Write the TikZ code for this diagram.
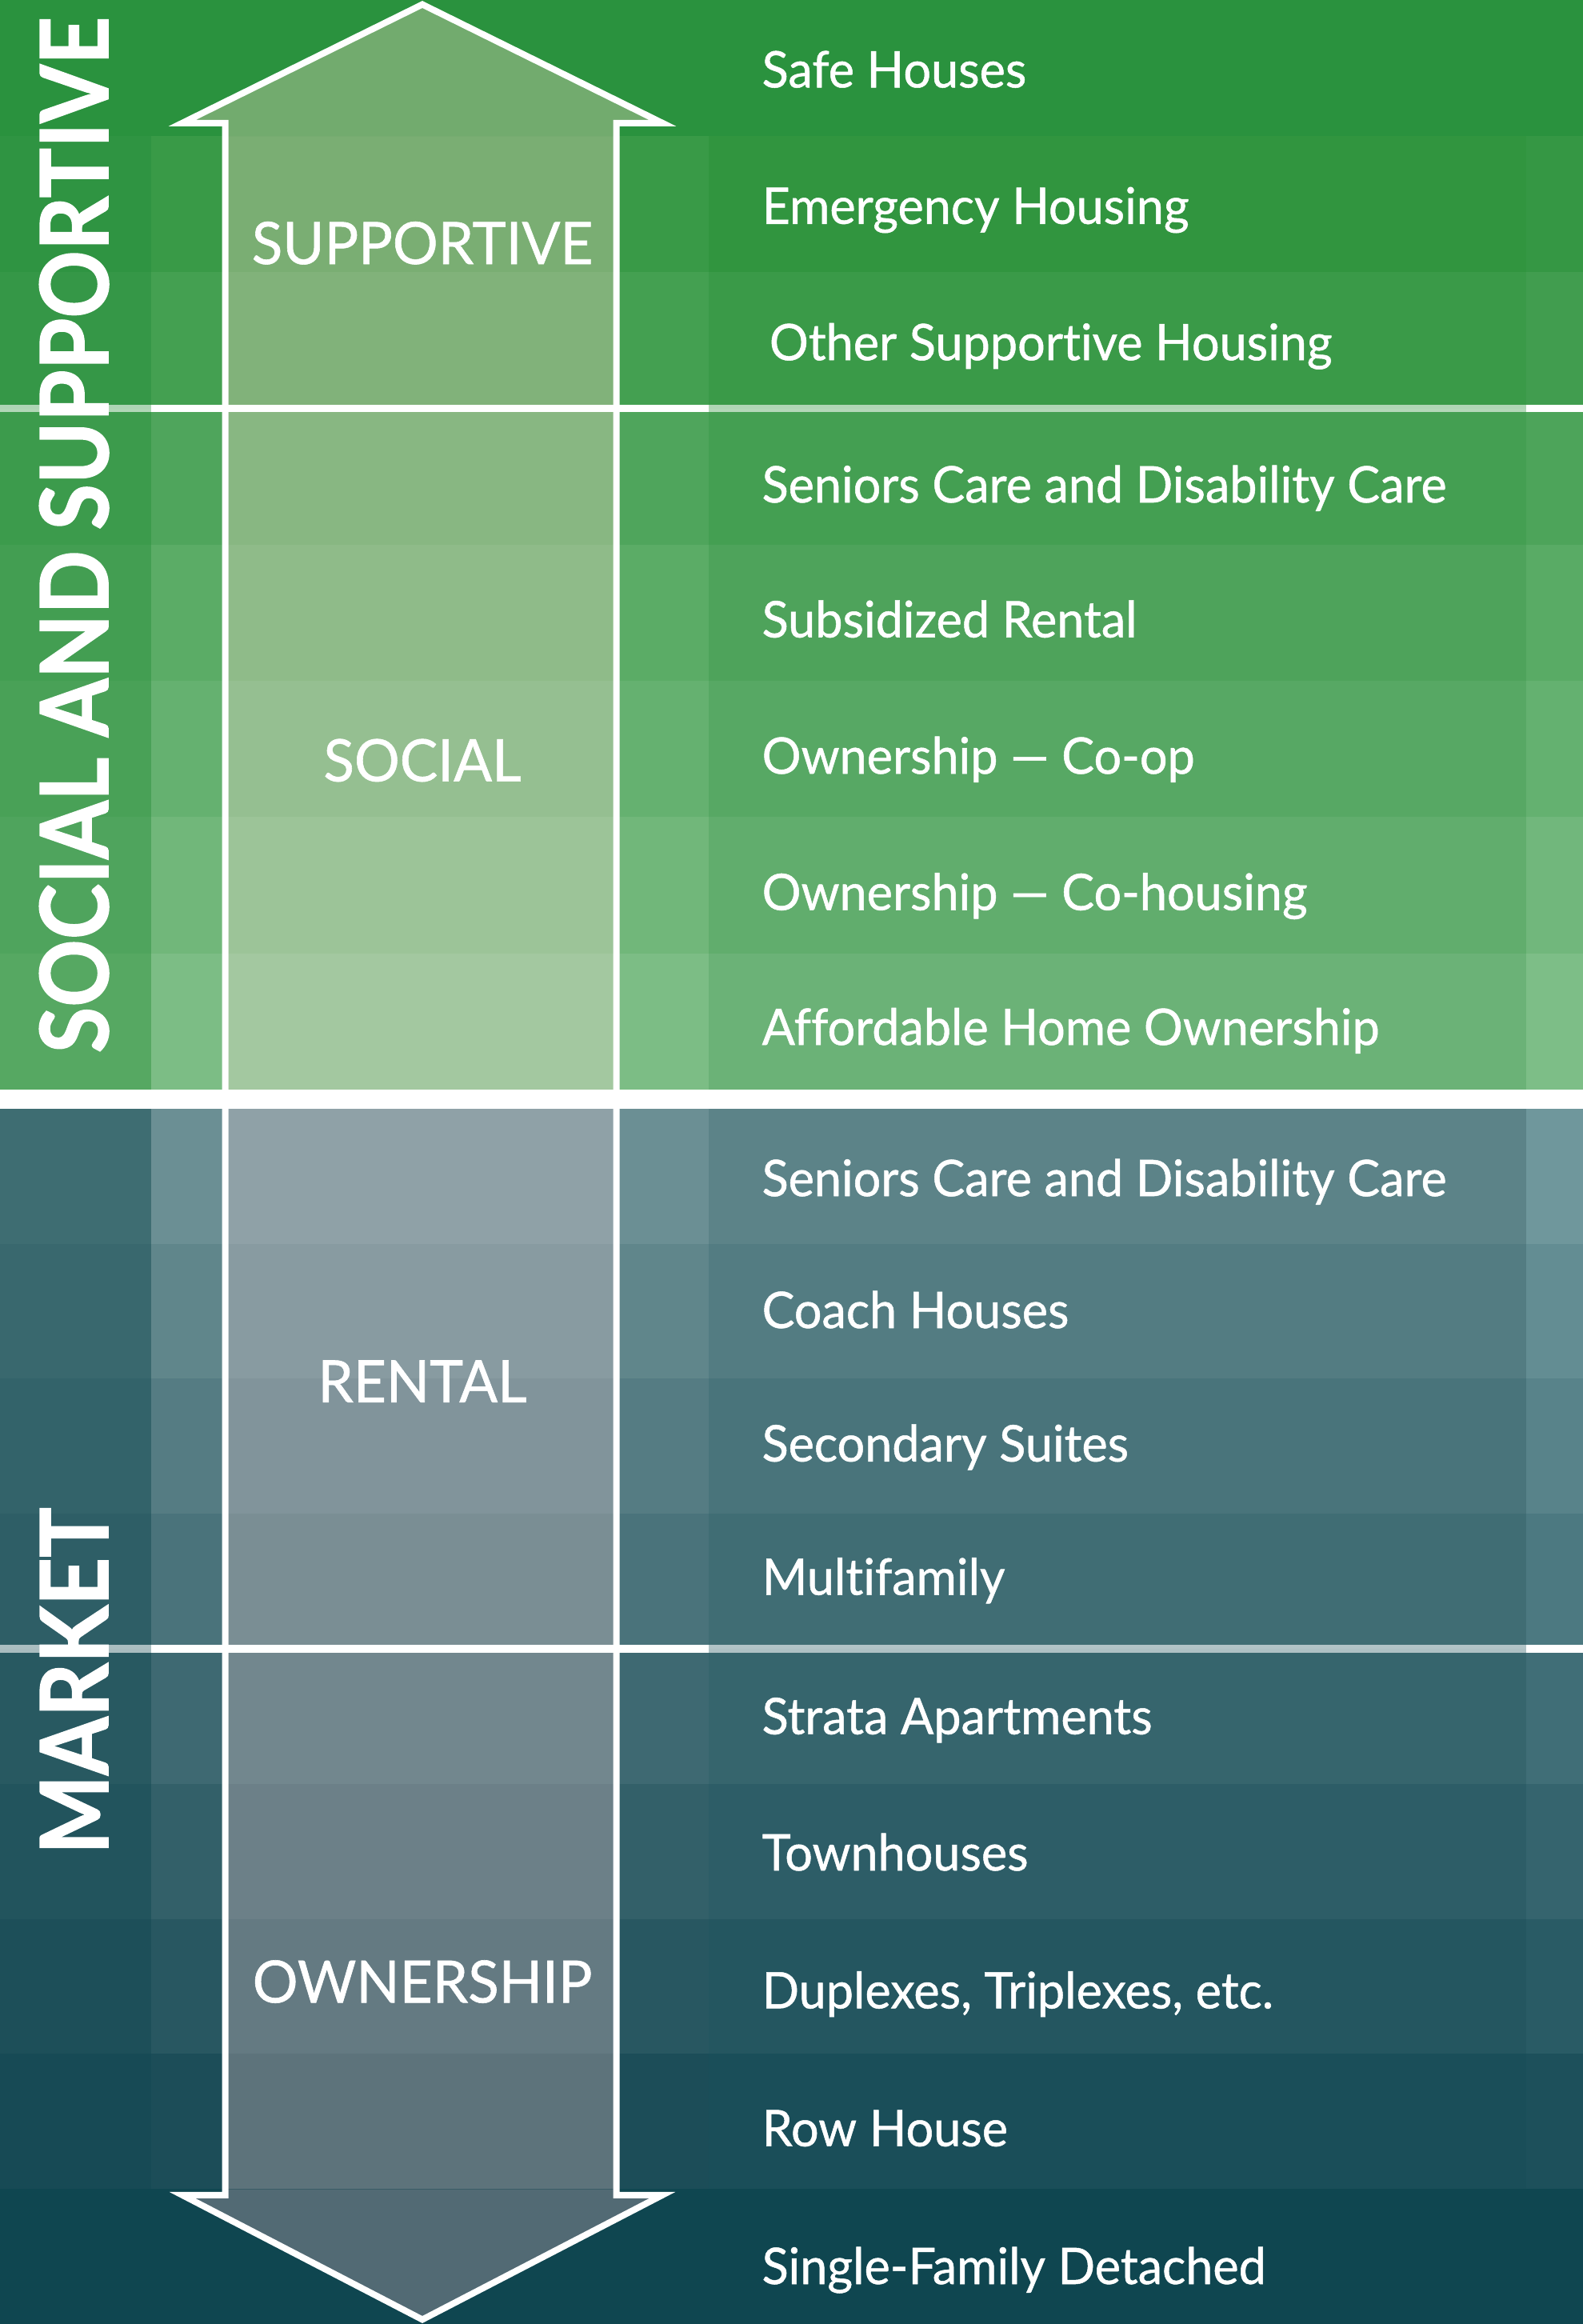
\documentclass[tikz,border=0pt]{standalone}
\usepackage{fontspec}
\setmainfont{Lato}
\newfontfamily\itemfont{Lato}[FakeBold=0.8, FakeStretch=0.97, Ligatures=NoCommon]
\newfontfamily\sidefont{Lato}[BoldFeatures={FakeStretch=0.89, FakeBold=1.2}]

% green part
\definecolor{gtop}{HTML}{2A923E}
\definecolor{ghead}{HTML}{72AB6E}
\definecolor{gAtop}{HTML}{2F9442}\definecolor{gAbot}{HTML}{56A862}
\definecolor{gBtop}{HTML}{399A47}\definecolor{gBbot}{HTML}{7CBD85}
\definecolor{gCtop}{HTML}{7AAE73}\definecolor{gCbot}{HTML}{A3C8A0}
\definecolor{gEtop}{HTML}{31953F}\definecolor{gEbot}{HTML}{6BB277}
\definecolor{gFtop}{HTML}{359744}\definecolor{gFbot}{HTML}{7DBE87}
% market part
\definecolor{mbot}{HTML}{0F4650}
\definecolor{mhead}{HTML}{526A74}
\definecolor{mAtop}{HTML}{3E6D72}\definecolor{mAbot}{HTML}{174A55}
\definecolor{mBtop}{HTML}{6B8F94}\definecolor{mBbot}{HTML}{1C4D58}
\definecolor{mCtop}{HTML}{8FA1A7}\definecolor{mCbot}{HTML}{5D737B}
\definecolor{mEtop}{HTML}{5C8388}\definecolor{mEbot}{HTML}{1A4E59}
\definecolor{mFtop}{HTML}{6F979C}\definecolor{mFbot}{HTML}{1D505B}

\tikzset{
	item/.style={anchor=base west, text=white, inner sep=0pt,
		font=\itemfont\fontsize{34}{40}\selectfont},
	band/.style={text=white, inner sep=0pt,
		font=\itemfont\fontsize{39.5}{46}\selectfont},
	side/.style={text=white, inner sep=0pt, rotate=90,
		font=\sidefont\bfseries\fontsize{63.5}{70}\selectfont},
	divider/.style={white, line width=5pt},
}

\begin{document}
\begin{tikzpicture}[x=1pt,y=-1pt]
\useasboundingbox (0,0) rectangle (1068,1568);
% green rows
\fill[gtop] (0,0) rectangle (1068,92);
\foreach \i in {1,...,7}{
	\pgfmathtruncatemacro\p{(\i-1)*100/6}
	\pgfmathsetmacro\ya{\i*91.875}
	\pgfmathsetmacro\yb{(\i+1)*91.875}
	\fill[gAbot!\p!gAtop] (0,\ya) rectangle (102,\yb);
	\fill[gBbot!\p!gBtop] (102,\ya) rectangle (152,\yb);
	\fill[gCbot!\p!gCtop] (152,\ya) rectangle (416,\yb);
	\fill[gBbot!\p!gBtop] (416,\ya) rectangle (478,\yb);
	\fill[gEbot!\p!gEtop] (478,\ya) rectangle (1030,\yb);
	\fill[gFbot!\p!gFtop] (1030,\ya) rectangle (1068,\yb);
}
% market rows
\foreach \i in {0,...,7}{
	\pgfmathtruncatemacro\p{\i*100/7}
	\pgfmathsetmacro\ya{748+\i*91.11}
	\pgfmathsetmacro\yb{748+(\i+1)*91.11}
	\fill[mAbot!\p!mAtop] (0,\ya) rectangle (102,\yb);
	\fill[mBbot!\p!mBtop] (102,\ya) rectangle (152,\yb);
	\fill[mCbot!\p!mCtop] (152,\ya) rectangle (416,\yb);
	\fill[mBbot!\p!mBtop] (416,\ya) rectangle (478,\yb);
	\fill[mEbot!\p!mEtop] (478,\ya) rectangle (1030,\yb);
	\fill[mFbot!\p!mFtop] (1030,\ya) rectangle (1068,\yb);
}
\fill[mbot] (0,1477) rectangle (1068,1568);
% arrow heads
\fill[ghead] (285,3) -- (447,83) -- (416,83) -- (416,92) -- (152,92)
	-- (152,83) -- (123,83) -- cycle;
\fill[mhead] (285,1565) -- (447,1481) -- (416,1481) -- (416,1477) -- (152,1477)
	-- (152,1481) -- (123,1481) -- cycle;
% dividers
\fill[white] (0,735) rectangle (1068,748);
\foreach \y in {275.6,1112.4}{
	\draw[divider, opacity=.6] (0,\y) -- (1068,\y);
	\draw[divider] (102,\y) -- (478,\y) (1030,\y) -- (1068,\y);
}
\draw[white, line width=4.3pt, miter limit=20]
	(285,3) -- (447,83) -- (416,83) -- (416,1481) -- (447,1481) -- (285,1565)
	-- (123,1481) -- (152,1481) -- (152,83) -- (123,83) -- cycle;
\path
	(50,361) node[side] (social) {SOCIAL AND SUPPORTIVE}
	(50,1134) node[side] (market) {MARKET}
	(285,164) node[band] (supportive) {SUPPORTIVE}
	(285,513) node[band] (socialband) {SOCIAL}
	(285,932) node[band] (rental) {RENTAL}
	(285,1337) node[band] (ownership) {OWNERSHIP};
\path
	(514,59) node[item] (safe) {Safe Houses}
	(514,151) node[item] (emergency) {Emergency Housing}
	(519,243) node[item] (othersupp) {Other Supportive Housing}
	(514,339) node[item] (seniorsg) {Seniors Care and Disability Care}
	(514,430) node[item] (subsidized) {Subsidized Rental}
	(514,522) node[item] (coop) {Ownership — Co-op}
	(514,614) node[item] (cohousing) {Ownership — Co-housing}
	(514,705) node[item] (affordable) {Affordable Home Ownership}
	(514,807) node[item] (seniorsm) {Seniors Care and Disability Care}
	(514,896) node[item] (coach) {Coach Houses}
	(514,986) node[item] (secondary) {Secondary Suites}
	(514,1076) node[item] (multifamily) {Multifamily}
	(514,1170) node[item] (strata) {Strata Apartments}
	(514,1262) node[item] (townhouses) {Townhouses}
	(514,1355) node[item] (duplexes) {Duplexes, Triplexes, etc.}
	(514,1448) node[item] (rowhouse) {Row House}
	(514,1541) node[item] (single) {Single-Family Detached};
\end{tikzpicture}
\end{document}
